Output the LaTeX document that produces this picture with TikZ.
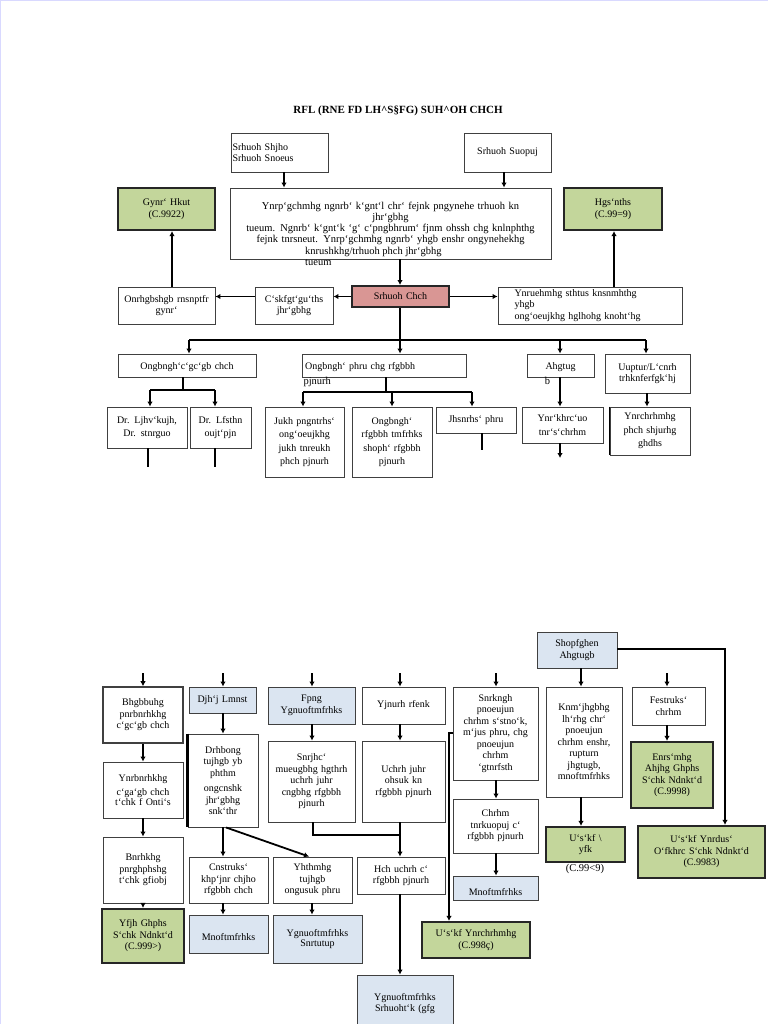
\documentclass[tikz,border=0pt]{standalone}
\usepackage{fontspec}
\setmainfont{Liberation Serif}
\usetikzlibrary{arrows.meta}
\definecolor{gr}{HTML}{C3D69B}
\definecolor{bl}{HTML}{DBE5F1}
\definecolor{rd}{HTML}{D99694}
\newcommand\bx[7]{\pgfmathsetmacro\bw{#4-#2}\pgfmathsetmacro\bh{#5-#3}\pgfmathsetmacro\tw{#4-#2-3}%
\node[#6, minimum width=\bw pt, minimum height=\bh pt, text width=\tw pt] (#1) at ({(#2+#4)/2},{(#3+#5)/2}) {#7};}
\begin{document}
\begin{tikzpicture}[x=1pt,y=-1pt,
 b/.style={draw=black!75, line width=0.9pt, fill=white, align=center, inner sep=1.5pt, font=\fontsize{10}{13.5}\selectfont},
 bb/.style={b, font=\fontsize{10}{11.5}\selectfont},
 g/.style={b, fill=gr, line width=2.2pt, draw=black!85},
 gb/.style={g, font=\fontsize{10}{11.5}\selectfont},
 u/.style={bb, fill=bl},
 t/.style={inner sep=0pt, font=\fontsize{10.5}{11}\selectfont},
 arr/.style={line width=1.8pt, -{Latex[length=5pt,width=5.5pt]}},
 ln/.style={line width=1.8pt}]
\useasboundingbox (0,0) rectangle (768,1024);
\draw[blue!15, line width=0.6pt] (0.5,1024) -- (0.5,0.5) -- (768,0.5);
\node[font=\fontsize{11}{13}\selectfont\bfseries] (title) at (398,111) {RFL (RNE FD LH\^{}S§FG) SUH\^{}OH CHCH};
% top
\bx{A}{231}{133}{328}{172}{b, align=left, font=\fontsize{10}{11.5}\selectfont}{Srhuoh Shjho\\Srhuoh Snoeus}
\bx{B}{464}{133}{551}{172}{b, align=center}{Srhuoh Suopuj\\[6pt]}
\bx{C}{230}{188}{551}{259}{b, font=\fontsize{10.5}{11}\selectfont}{Ynrp`gchmhg ngnrb` k`gnt`l chr` fejnk pngynehe trhuoh kn\\jhr`gbhg\\tueum. Ngnrb` k`gnt`k `g` c`pngbhrum` fjnm ohssh chg knlnphthg\\fejnk tnrsneut. Ynrp`gchmhg ngnrb` yhgb enshr ongynehekhg\\[18pt]}
\node[t, anchor=north west, align=left] (Cx) at (305,247) {knrushkhg/trhuoh phch jhr`gbhg\\tueum};
\bx{G1}{118}{188}{215}{230}{g, font=\fontsize{10}{11.5}\selectfont}{Gynr` Hkut\\(C.9922)}
\bx{G2}{564}{188}{662}{230}{g, font=\fontsize{10}{11.5}\selectfont}{Hgs`nths\\(C.99=9)}
\bx{D1}{118}{287}{215}{324}{b, font=\fontsize{10}{11.5}\selectfont}{Onrhgbshgb rnsnptfr\\gynr`}
\bx{D2}{255}{287}{333}{324}{b, font=\fontsize{10}{11.5}\selectfont}{C`skfgt`gu`ths\\jhr`gbhg}
\bx{R}{352}{286}{449}{307}{b, fill=rd, line width=2pt, draw=black!85}{Srhuoh Chch}
\bx{D4}{498}{287}{682}{324}{b, align=left, font=\fontsize{10}{11.5}\selectfont}{\hspace*{15pt}Ynruehmhg sthtus knsnmhthg\\\hspace*{15pt}yhgb\\\hspace*{15pt}ong`oeujkhg hglhohg knoht`hg}
\draw[arr] (A.south -| 284,0) -- (C.north -| 284,0);
\draw[arr] (B.south -| 504,0) -- (C.north -| 504,0);
\draw[arr] (C.south -| 400,0) -- (R.north -| 400,0);
\draw[arr] (R.west) -- (D2.east |- R.west);
\draw[arr] (D2.west |- R.west) -- (D1.east |- R.west);
\draw[arr] (R.east) -- (D4.west |- R.east);
\draw[arr] (D1.north -| 172,0) -- (G1.south -| 172,0);
\draw[arr] (D4.north -| 614,0) -- (G2.south -| 614,0);
% row 2
\bx{E1}{118}{354}{256}{377}{b}{\\[-4pt]Ongbngh`c`gc`gb chch}
\bx{E2}{302}{354}{466}{377}{b, align=left, label={[t, anchor=north west]south west:\,pjnurh}}{\\[-4pt]\,Ongbngh` phru chg rfgbbh}
\bx{E3}{527}{354}{594}{377}{b, label={[t, anchor=north west]south west:\hspace*{18pt}b}}{\\[-4pt]Ahgtug}
\bx{E4}{605}{354}{690}{393}{b, font=\fontsize{10}{11.5}\selectfont}{Uuptur/L`cnrh\\trhknferfgk`hj}
\coordinate (bus) at (400,340);
\draw[ln] (R.south -| 400,0) -- (bus);
\draw[ln] (189,340) -- (646,340);
\draw[arr] (189,340) -- (E1.north -| 189,0);
\draw[arr] (400,340) -- (E2.north -| 400,0);
\draw[arr] (560,340) -- (E3.north -| 560,0);
\draw[arr] (646,340) -- (E4.north -| 646,0);
% row 3
\bx{F1}{107}{407}{187}{448}{b}{Dr. Ljhv`kujh,\\Dr. stnrguo}
\bx{F2}{190}{407}{251}{448}{b}{Dr. Lfsthn\\oujt`pjn}
\bx{H1}{265}{407}{344}{477}{b}{Jukh pngntrhs`\\ong`oeujkhg\\jukh tnreukh\\phch pjnurh}
\bx{H2}{352}{407}{432}{477}{b}{Ongbngh`\\rfgbbh tmfrhks\\shoph` rfgbbh\\pjnurh}
\bx{H3}{436}{407}{516}{433}{b}{Jhsnrhs` phru}
\bx{I1}{522}{407}{603}{443}{b}{Ynr`khrc`uo\\tnr`s`chrhm}
\bx{I2}{610}{407}{690}{455}{b}{Ynrchrhmhg\\phch shjurhg\\ghdhs}
\draw[line width=1.6pt] (I2.north west) -- (I2.south west);
\draw[ln] (E1.south -| 183,0) -- (183,390) (150,390) -- (215,390);
\draw[arr] (150,390) -- (F1.north -| 150,0);
\draw[arr] (215,390) -- (F2.north -| 215,0);
\draw[ln] (E2.south -| 386,0) -- (386,392) (303,392) -- (472,392);
\draw[arr] (303,392) -- (H1.north -| 303,0);
\draw[arr] (392,392) -- (H2.north -| 392,0);
\draw[arr] (472,392) -- (H3.north -| 472,0);
\draw[ln] (H3.south -| 482,0) -- (482,450);
\draw[arr] (E3.south -| 560,0) -- (I1.north -| 560,0);
\draw[arr] (I1.south -| 560,0) -- (560,458);
\draw[arr] (E4.south -| 647,0) -- (I2.north -| 647,0);
\draw[ln] (F1.south -| 148,0) -- (148,467);
\draw[ln] (F2.south -| 215,0) -- (215,467);
% bottom section
\bx{J1}{103}{687}{183}{743}{bb, line width=1.6pt}{Bhgbbuhg\\pnrbnrhkhg\\c`gc`gb chch}
\bx{J2}{103}{762}{183}{818}{bb}{Ynrbnrhkhg\\[3pt]c`ga`gb chch\\[-2pt]t`chk f Onti`s}
\bx{J3}{103}{837}{183}{903}{bb}{Bnrhkhg\\pnrghphshg\\t`chk gfiobj}
\bx{J4}{102}{909}{184}{963}{gb}{Yfjh Ghphs\\S`chk Ndnkt`d\\(C.999>)}
\bx{K1}{189}{687}{256}{713}{u}{Djh`j Lmnst}
\bx{K2}{188}{734}{258}{827}{bb}{Drhbong\\tujhgb yb\\phthm\\[4pt]ongcnshk\\jhr`gbhg\\snk`thr}
\draw[line width=2.2pt] (K2.north west) -- (K2.south west);
\bx{K3}{189}{857}{268}{903}{bb}{Cnstruks`\\khp`jnr chjho\\rfgbbh chch}
\bx{K4}{189}{915}{268}{953}{u}{\\[2pt]Mnoftmfrhks}
\bx{L1}{273}{857}{352}{903}{bb}{Yhthmhg\\tujhgb\\ongusuk phru}
\bx{L2}{273}{915}{362}{963}{u}{Ygnuoftmfrhks\\[-2pt]Snrtutup}
\bx{M1}{268}{687}{355}{724}{u}{Fpng\\Ygnuoftmfrhks}
\bx{M2}{268}{741}{355}{822}{bb}{Snrjhc`\\mueugbhg hgthrh\\uchrh juhr\\cngbhg rfgbbh\\pjnurh}
\bx{N1}{362}{687}{445}{724}{bb}{Yjnurh rfenk\\[8pt]}
\bx{N2}{362}{741}{445}{822}{bb}{Uchrh juhr\\ohsuk kn\\rfgbbh pjnurh\\[22pt]}
\bx{N3}{357}{857}{445}{894}{bb}{Hch uchrh c`\\rfgbbh pjnurh}
\bx{N4}{357}{975}{453}{1032}{u}{Ygnuoftmfrhks\\Srhuoht`k (gfg\\[8pt]}
\bx{O1}{453}{687}{538}{780}{bb}{Snrkngh\\pnoeujun\\chrhm s`stno`k,\\m`jus phru, chg\\pnoeujun\\chrhm\\`gtnrfsth}
\bx{O2}{453}{799}{538}{853}{bb}{Chrhm\\tnrkuopuj c`\\rfgbbh pjnurh}
\bx{O3}{453}{876}{538}{900}{u}{\\[4pt]Mnoftmfrhks}
\bx{P}{422}{922}{530}{958}{gb}{U`s`kf Ynrchrhmhg\\(C.998ç)}
\bx{Q0}{537}{632}{617}{668}{u}{Shopfghen\\Ahgtugb}
\bx{Q1}{546}{687}{622}{797}{bb}{Knm`jhgbhg\\lh`rhg chr`\\pnoeujun\\chrhm enshr,\\rupturn\\jhgtugb,\\mnoftmfrhks}
\bx{S}{546}{827}{625}{862}{gb}{U`s`kf \textbackslash\\yfk}
\node[t] (Sl) at (585,869) {(C.99<9)};
\bx{T1}{632}{687}{705}{725}{bb}{Festruks`\\chrhm}
\bx{T2}{631}{742}{713}{808}{gb}{Enrs`mhg\\Ahjhg Ghphs\\S`chk Ndnkt`d\\(C.9998)}
\bx{RR}{638}{826}{765}{878}{gb}{U`s`kf Ynrdus`\\O`fkhrc S`chk Ndnkt`d\\(C.9983)}
% top stub arrows
\foreach \xx/\tg in {143/J1,223/K1,312/M1,400/N1,496/O1,667/T1}
  \draw[arr] (\xx,673) -- (\tg.north -| \xx,0);
\draw[arr] (J1.south -| 143,0) -- (J2.north -| 143,0);
\draw[arr] (J2.south -| 143,0) -- (J3.north -| 143,0);
\draw[arr] (J3.south -| 143,0) -- (J4.north -| 143,0);
\draw[arr] (K1.south -| 223,0) -- (K2.north -| 223,0);
\draw[arr] (K2.south -| 223,0) -- (K3.north -| 223,0);
\draw[arr] (K2.south -| 226,0) -- (L1.north -| 309,0);
\draw[arr] (K3.south -| 223,0) -- (K4.north -| 223,0);
\draw[arr] (L1.south -| 312,0) -- (L2.north -| 312,0);
\draw[arr] (M1.south -| 312,0) -- (M2.north -| 312,0);
\draw[arr] (N1.south -| 400,0) -- (N2.north -| 400,0);
\draw[ln] (M2.south -| 313,0) -- (313,835) -- (400,835);
\draw[arr] (N2.south -| 400,0) -- (N3.north -| 400,0);
\draw[arr] (N3.south -| 400,0) -- (N4.north -| 400,0);
\draw[arr] (O1.south -| 496,0) -- (O2.north -| 496,0);
\draw[arr] (O2.south -| 496,0) -- (O3.north -| 496,0);
\draw[arr] (O1.west |- 0,733) -- (449,733) -- (P.north -| 449,0);
\draw[arr] (Q0.south -| 581,0) -- (Q1.north -| 581,0);
\draw[arr] (Q1.south -| 581,0) -- (S.north -| 581,0);
\draw[arr] (T1.south -| 667,0) -- (T2.north -| 667,0);
\draw[arr] (Q0.east |- 0,649) -- (725,649) -- (RR.north -| 725,0);
\end{tikzpicture}
\end{document}
